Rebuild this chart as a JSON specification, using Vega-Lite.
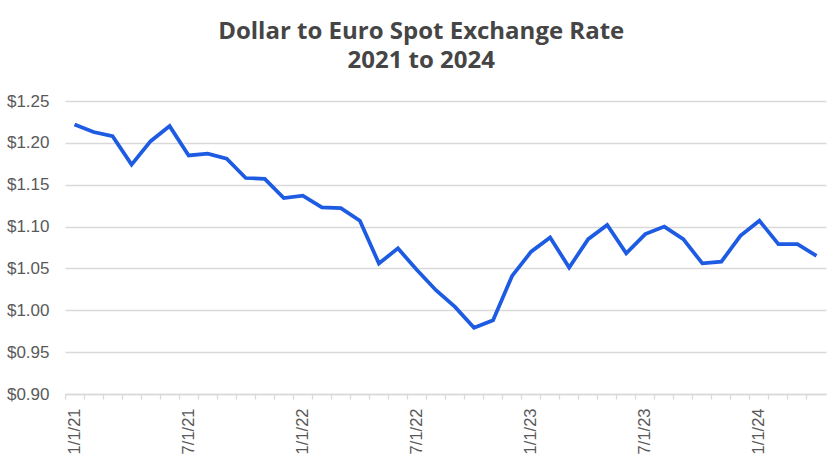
{
  "$schema": "https://vega.github.io/schema/vega-lite/v6.json",
  "width": 761,
  "height": 293,
  "autosize": {"type": "none"},
  "padding": {"left": 65, "top": 101, "right": 14, "bottom": 78},
  "background": "white",
  "title": {
    "text": ["Dollar to Euro Spot Exchange Rate", "2021 to 2024"],
    "anchor": "middle",
    "frame": "bounds",
    "font": "Open Sans",
    "fontSize": 24,
    "fontWeight": 700,
    "color": "#454545",
    "lineHeight": 29,
    "offset": 19,
    "dx": 5
  },
  "config": {
    "view": {"stroke": null},
    "axis": {"labelFont": "Liberation Sans", "labelColor": "#595959"}
  },
  "data": {
    "values": [
      {"date": "1/1/21", "rate": 1.222},
      {"date": "2/1/21", "rate": 1.213},
      {"date": "3/1/21", "rate": 1.208},
      {"date": "4/1/21", "rate": 1.174},
      {"date": "5/1/21", "rate": 1.202},
      {"date": "6/1/21", "rate": 1.220},
      {"date": "7/1/21", "rate": 1.185},
      {"date": "8/1/21", "rate": 1.187},
      {"date": "9/1/21", "rate": 1.181},
      {"date": "10/1/21", "rate": 1.158},
      {"date": "11/1/21", "rate": 1.157},
      {"date": "12/1/21", "rate": 1.134},
      {"date": "1/1/22", "rate": 1.137},
      {"date": "2/1/22", "rate": 1.123},
      {"date": "3/1/22", "rate": 1.122},
      {"date": "4/1/22", "rate": 1.107},
      {"date": "5/1/22", "rate": 1.056},
      {"date": "6/1/22", "rate": 1.074},
      {"date": "7/1/22", "rate": 1.048},
      {"date": "8/1/22", "rate": 1.024},
      {"date": "9/1/22", "rate": 1.004},
      {"date": "10/1/22", "rate": 0.979},
      {"date": "11/1/22", "rate": 0.988},
      {"date": "12/1/22", "rate": 1.041},
      {"date": "1/1/23", "rate": 1.070},
      {"date": "2/1/23", "rate": 1.087},
      {"date": "3/1/23", "rate": 1.051},
      {"date": "4/1/23", "rate": 1.085},
      {"date": "5/1/23", "rate": 1.102},
      {"date": "6/1/23", "rate": 1.068},
      {"date": "7/1/23", "rate": 1.091},
      {"date": "8/1/23", "rate": 1.100},
      {"date": "9/1/23", "rate": 1.085},
      {"date": "10/1/23", "rate": 1.056},
      {"date": "11/1/23", "rate": 1.058},
      {"date": "12/1/23", "rate": 1.089},
      {"date": "1/1/24", "rate": 1.107},
      {"date": "2/1/24", "rate": 1.079},
      {"date": "3/1/24", "rate": 1.079},
      {"date": "4/1/24", "rate": 1.065}
    ]
  },
  "resolve": {"axis": {"x": "independent"}},
  "layer": [
    {
      "mark": {"type": "line", "color": "#1d5be3", "strokeWidth": 3.75, "strokeJoin": "miter"},
      "encoding": {
        "x": {
          "field": "date",
          "type": "ordinal",
          "sort": null,
          "bandPosition": 0.5,
          "scale": {"type": "band", "paddingInner": 0, "paddingOuter": 0},
          "axis": {
            "orient": "bottom",
            "title": null,
            "ticks": false,
            "domain": false,
            "grid": false,
            "bandPosition": 0.5,
            "labelAngle": -90,
            "labelFontSize": 16.5,
            "labelPadding": 14,
            "labelExpr": "indexof(datum.label,'1/1/')==0 || indexof(datum.label,'7/1/')==0 ? datum.label : ''"
          }
        },
        "y": {
          "field": "rate",
          "type": "quantitative",
          "scale": {"domain": [0.9, 1.25], "zero": false, "nice": false},
          "axis": {
            "title": null,
            "values": [0.9, 0.95, 1.0, 1.05, 1.1, 1.15, 1.2, 1.25],
            "format": "$.2f",
            "domain": false,
            "ticks": false,
            "grid": true,
            "gridColor": "#d9d9d9",
            "gridWidth": 1.3,
            "labelFontSize": 17,
            "labelPadding": 16
          }
        }
      }
    },
    {
      "mark": {"type": "line", "opacity": 0},
      "encoding": {
        "x": {
          "field": "date",
          "type": "ordinal",
          "sort": null,
          "axis": {
            "orient": "bottom",
            "title": null,
            "labels": false,
            "ticks": true,
            "tickSize": 5,
            "tickColor": "#d9d9d9",
            "tickWidth": 1.3,
            "domain": true,
            "domainColor": "#d9d9d9",
            "domainWidth": 1.3,
            "grid": false,
            "bandPosition": 0
          }
        },
        "y": {"field": "rate", "type": "quantitative"}
      }
    }
  ]
}
